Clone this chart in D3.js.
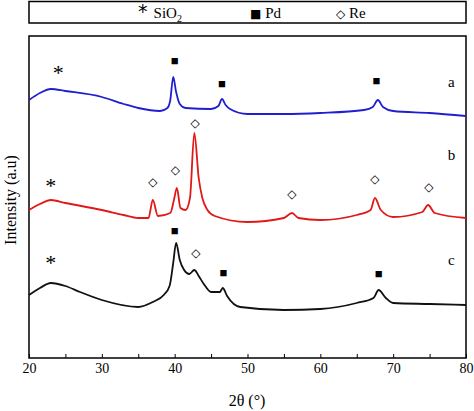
<!DOCTYPE html>
<html><head><meta charset="utf-8">
<script src="https://cdn.jsdelivr.net/npm/d3@7"></script>
<style>body{margin:0;background:#fff}text{font-family:"Liberation Serif","DejaVu Serif",serif}</style>
</head><body><svg id="c" width="474" height="411"></svg>
<script>
// intensity values are in arbitrary units (stacked, offset curves)
const seriesA = [[20,258],[21.5,265],[23,269],[25,267],[30,261],[33,254],[35,250],[38,247],[39.0,250],[39.4,258],[39.8,281],[40.2,266],[40.7,254],[41.5,250],[45,249],[46.0,252],[46.5,259],[47.0,253],[47.6,249],[50,244],[55,244],[60,245],[66,248],[67.2,251],[67.9,258],[68.6,251],[70,247],[75,245],[80,242]];
const seriesB = [[20,148],[21.5,154],[23,158],[25,155],[30,148],[33,143],[35,140],[36.4,140],[37.0,158],[37.7,142],[39.4,145],[39.9,158],[40.3,170],[40.8,150],[41.5,148],[42.1,160],[42.7,225],[43.3,180],[43.8,160],[44.5,148],[45.5,142],[50,136],[55,140],[56.1,145],[57,140],[60,138],[65,143],[66.9,148],[67.5,160],[68.3,148],[70,141],[74,146],[74.8,153],[75.7,145],[80,140]];
const seriesC = [[20,63],[21.5,70],[23,75],[25,72],[27,66],[30,58],[35,51],[37,56],[38.5,63],[39.3,72],[39.8,95],[40.2,115],[40.7,98],[41.3,88],[42,84],[42.7,88],[43.3,82],[44,74],[45,66],[46.2,66],[46.6,70],[47.2,62],[49,51],[55,48],[60,49],[65,55],[67.3,60],[68,68],[69,60],[70,55],[75,54],[80,53]];
const xTicks = [20,30,40,50,60,70,80];
const legendItems = [{sym:"*",label:"SiO",sub:"2"},{sym:"■",label:"Pd"},{sym:"◇",label:"Re"}];
const markersA = [["*",24,291],["■",40,298],["■",46.5,275],["■",67.7,278]];
const markersB = [["*",23,178],["◇",37.0,176],["◇",40.1,188],["◇",42.8,235],["◇",56.1,164],["◇",67.5,179],["◇",74.9,171]];
const markersC = [["*",23,101],["■",40.0,128],["◇",42.9,105],["■",46.7,86],["■",68.0,85]];
const curveLabels = [["a",78,271],["b",78,198],["c",78,93]];

const svg = d3.select("#c");
const L=29,R=466,T=36,B=358;
const x = d3.scaleLinear().domain([20,80]).range([L,R]);
const y = d3.scaleLinear().domain([0,322]).range([B,T]);

svg.append("rect").attr("x",L).attr("y",1.5).attr("width",R-L).attr("height",21.5).attr("fill","none").attr("stroke","#000").attr("stroke-width",1.5);
const lx=[138,250,336];
legendItems.forEach((d,i)=>{
  const t=svg.append("text").attr("x",lx[i]).attr("y",18).attr("font-size",15);
  t.append("tspan").text(d.sym+" ").attr("font-size",d.sym==="*"?19:(d.sym==="■"?12:12)).attr("font-family","DejaVu Sans");
  t.append("tspan").text(d.label);
  if(d.sub) t.append("tspan").text(d.sub).attr("font-size",10).attr("dy",4);
});

svg.append("rect").attr("x",L).attr("y",T).attr("width",R-L).attr("height",B-T).attr("fill","none").attr("stroke","#000").attr("stroke-width",1.5);

const ax = svg.append("g").attr("transform",`translate(0,${B})`)
  .call(d3.axisBottom(x).tickValues(d3.range(20,81,5)).tickSize(-4).tickFormat(d=>xTicks.includes(d)?d:""));
ax.select(".domain").remove();
ax.selectAll("line").attr("stroke","#000");
ax.selectAll("text").attr("font-size",14).attr("dy",12).attr("fill","#000");

const line = d3.line().x(d=>x(d[0])).y(d=>y(d[1])).curve(d3.curveMonotoneX);
[[seriesA,"#1f1fd0"],[seriesB,"#e01818"],[seriesC,"#111"]].forEach(([s,c])=>{
  svg.append("path").attr("d",line(s)).attr("fill","none").attr("stroke",c).attr("stroke-width",1.8);
});

[...markersA,...markersB,...markersC].forEach(([s,a,v])=>{
  svg.append("text").attr("x",x(a)).attr("y",y(v)).attr("text-anchor","middle").attr("dominant-baseline","central")
    .attr("font-size",s==="*"?22:(s==="■"?13:12)).attr("font-weight",s==="◇"?"bold":"normal").attr("dy",s==="*"?5:0).attr("font-family","DejaVu Sans").text(s);
});
curveLabels.forEach(([t,a,v])=>svg.append("text").attr("x",x(a)).attr("y",y(v)).attr("font-size",15).attr("text-anchor","middle").text(t));

svg.append("text").attr("x",247).attr("y",406).attr("text-anchor","middle").attr("font-size",16).text("2θ (°)");
svg.append("text").attr("transform","translate(16,200) rotate(-90)").attr("text-anchor","middle").attr("font-size",16).text("Intensity (a.u)");
</script></body></html>
